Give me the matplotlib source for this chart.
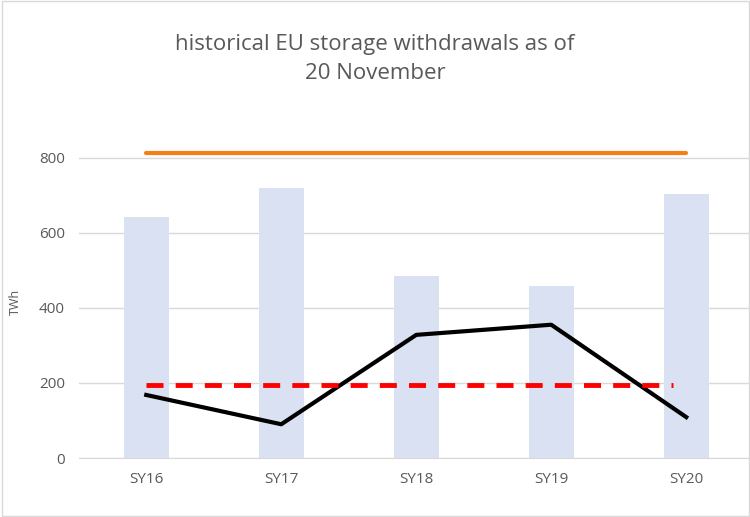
import matplotlib.pyplot as plt
import numpy as np

# Storage years and withdrawals (TWh)
years = ["SY16", "SY17", "SY18", "SY19", "SY20"]
withdrawals = [643, 720, 485, 459, 704]
as_of_date = [168, 90, 328, 355, 109]
average_level = 195
capacity_level = 811

plt.rcParams['font.family'] = ['Open Sans', 'DejaVu Sans']

fig = plt.figure(figsize=(7.5, 5.17), dpi=100)
ax = fig.add_axes([0.105, 0.114, 0.9, 0.603])

x = np.arange(len(years))
ax.bar(x, withdrawals, width=0.33, color='#d9e1f2', zorder=2)
ax.plot(x, as_of_date, color='black', linewidth=3, zorder=4)
ax.plot([x[0], x[-1] - 0.1], [average_level, average_level], color='#ff0000',
        linewidth=3.5, linestyle=(0, (3.5, 2.5)), zorder=5)
ax.plot([x[0], x[-1]], [capacity_level, capacity_level], color='#f57f17',
        linewidth=3, solid_capstyle='round', zorder=5)

ax.set_xlim(-0.5, len(years) - 0.5)
ax.set_ylim(0, 830)
ax.set_yticks([0, 200, 400, 600, 800])
ax.set_xticks(x)
ax.set_xticklabels(years)
ax.grid(axis='y', color='#d9d9d9', linewidth=1, zorder=0)
for s in ['top', 'right', 'left']:
    ax.spines[s].set_visible(False)
ax.spines['bottom'].set_color('#d9d9d9')
ax.tick_params(length=0, colors='#595959', labelsize=11, pad=10)
ax.set_ylabel('TWh', color='#595959', fontsize=9, labelpad=12)

fig.text(0.5, 0.885, 'historical EU storage withdrawals as of\n20 November',
         ha='center', va='center', fontsize=16, color='#595959', linespacing=1.5)
fig.patches.append(plt.Rectangle((0.002, 0.002), 0.996, 0.996, transform=fig.transFigure,
                                 fill=False, edgecolor='#d9d9d9', linewidth=1))

fig.savefig('out.png', dpi=100)
